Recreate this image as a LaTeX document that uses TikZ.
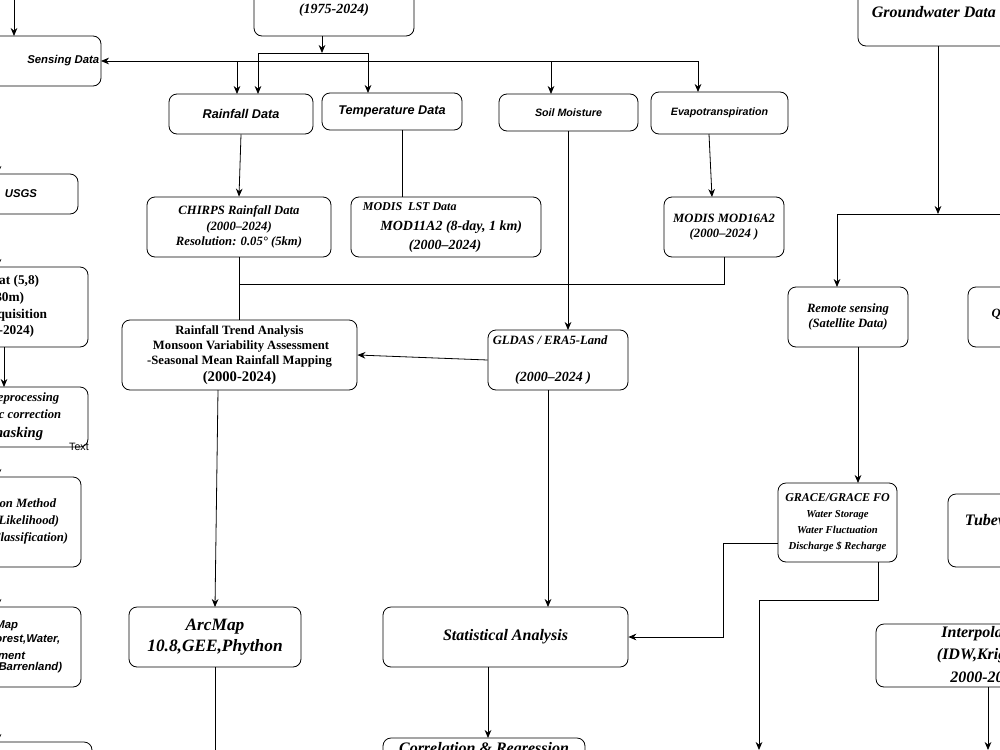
\documentclass[tikz,border=0pt]{standalone}
\usepackage{fontspec}
\setmainfont{Liberation Serif}
\setsansfont{Liberation Sans}
\usetikzlibrary{arrows.meta}
\begin{document}
\begin{tikzpicture}[x=0.75pt,y=-0.75pt,
  box/.style={draw,rounded corners=6pt,inner sep=1pt,align=center},
  wh/.style 2 args={minimum width=#1*0.75pt,minimum height=#2*0.75pt},
  sb/.style={font=\sffamily\bfseries\itshape\fontsize{#1}{\dimexpr#1pt*6/5\relax}\selectfont},
  rb/.style={font=\rmfamily\bfseries\itshape\fontsize{#1}{\dimexpr#1pt*6/5\relax}\selectfont},
  ru/.style={font=\rmfamily\bfseries\fontsize{#1}{\dimexpr#1pt*6/5\relax}\selectfont},
  ar/.style={-{Stealth[length=6pt,width=5pt]},line width=0.6pt}]
\useasboundingbox (0,0) rectangle (1000,750);
\clip (0,0) rectangle (1000,750);
\tikzset{every path/.append style={line width=0.6pt}}
% ---- boxes ----
\node[box,wh={160}{76},rb=10.5] (kak) at (334,-2) {\\(Kakul \& Balakot)\\(1975-2024)};
\node[box,wh={130}{50}] (rsd) at (36,61) {};
\node[sb=8.5,anchor=east] (rsdt) at (104,61) {Sensing Data};
\node[box,wh={144}{40},sb=9.5] (rain) at (241,114) {Rainfall Data};
\node[box,wh={140}{37},sb=9.5] (temp) at (392,111.5) {Temperature Data};
\node[box,wh={139}{37},sb=8] (soil) at (568.5,112.5) {Soil Moisture};
\node[box,wh={137}{42},sb=8] (evap) at (719.5,113) {Evapotranspiration};
\node[box,wh={110}{40}] (usgs) at (23,194) {};
\node[sb=8.5,anchor=west] at (0,194) {USGS};
\node[box,wh={184}{60},rb=9.5] (chirps) at (239,227) {CHIRPS Rainfall Data\\(2000--2024)\\ Resolution: 0.05° (5km)};
\node[box,wh={190}{60}] (lst) at (446,227) {};
\node[rb=9,anchor=west] at (358,207) {MODIS\ \ LST Data};
\node[rb=10.5] at (446,227) {\ \ \ MOD11A2 (8-day, 1 km)};
\node[rb=10.5] at (445,246) {(2000--2024)};
\node[box,wh={120}{60},rb=9.5] (mod16) at (724,227) {MODIS MOD16A2\\(2000--2024 )};
\node[box,wh={118}{80}] (land) at (29,307) {};
\node[ru=10,anchor=east] at (44,281) {Landsat (5,8)};
\node[ru=10,anchor=east] at (29,298) {(30m)};
\node[ru=10,anchor=east] at (52,315) {Acquisition};
\node[ru=10,anchor=east] at (39,331) {(2000-2024)};
\node[box,wh={235}{70},ru=9.5] (trend) at (239.5,355) {Rainfall Trend Analysis\\ \ Monsoon Variability Assessment\\-Seasonal Mean Rainfall Mapping\\[1pt]{\fontsize{11}{13}\selectfont(2000-2024)}};
\node[box,wh={140}{60}] (gldas) at (558,360) {};
\node[rb=9.5,anchor=west] at (488,340) {GLDAS / ERA5-Land};
\node[rb=10.5] at (553,378) {(2000--2024 )};
\node[box,wh={118}{60}] (pre) at (29,417) {};
\node[rb=9.5,anchor=east] at (64,398) {Image Preprocessing};
\node[rb=9.5,anchor=east] at (66,415) {Atmospheric correction};
\node[rb=11,anchor=east] at (48,434) {Cloud masking};
\node[font=\sffamily\fontsize{8}{9}\selectfont] at (79,447) {Text};
\node[box,wh={111}{90}] (cls) at (25.5,522) {};
\node[rb=9.5,anchor=east] at (61,504) {Classification Method};
\node[rb=9.5,anchor=east] at (64,521) {(Maximum Likelihood)};
\node[rb=9.5,anchor=east] at (73,538) {(Supervised Classification)};
\node[box,wh={111}{80}] (lulc) at (25.5,647) {};
\node[sb=8.5,anchor=east] at (23,626) {LULC Map};
\node[sb=8.5,anchor=east] at (65,640) {(Forest,Water,};
\node[sb=8.5,anchor=east] at (30,655) {Settlement};
\node[sb=8.5,anchor=east] at (67,668) {Agriculture,Barrenland)};
\node[box,wh={172}{60},rb=13] (arc) at (215,637) {ArcMap\\10.8,GEE,Phython};
\node[box,wh={245}{60},rb=12] (stat) at (505.5,637) {Statistical Analysis};
\node[box,wh={112}{40}] (bl) at (36,762) {};
\node[box,wh={202}{40},rb=12] (corr) at (484,758) {Correlation \& Regression\\ };
\node[box,wh={152}{80}] (gw) at (934,6) {};
\node[rb=12,anchor=west] at (867,12) {Groundwater Data};
\node[box,wh={120}{60},rb=9.5] (rs) at (848,317) {Remote sensing\\(Satellite Data)};
\node[box,wh={90}{60}] (fd) at (1013,317) {};
\node[rb=9.5] at (1018,297) {Field};
\node[rb=9.5] at (1021,314) {Quantity \&};
\node[rb=9.5] at (1024,330) {Quality};
\node[box,wh={119}{79},align=center,font=\rmfamily\bfseries\itshape] (grace) at (837.5,522.5) {{\fontsize{9}{10}\selectfont GRACE/GRACE FO}\\{\fontsize{8}{9.5}\selectfont Water Storage}\\{\fontsize{8}{9.5}\selectfont Water Fluctuation}\\{\fontsize{8}{9.5}\selectfont Discharge \$ Recharge}};
\node[box,wh={100}{73}] (tube) at (998,530.5) {};
\node[rb=12,anchor=west] at (960,520) {Tubewell};
\node[box,wh={170}{63}] (interp) at (961,655.5) {};
\node[rb=12] at (985,634) {Interpolation};
\node[rb=12] at (985,656) {(IDW,Kriging)};
\node[rb=12] at (985,677) {2000-2024};
% ---- coordinates ----
\coordinate (t0) at (14,-10);
\coordinate (j1) at (322,53);
\coordinate (gwj) at (938,214);
\coordinate (gwr) at (1010,214);
% ---- connectors ----
\draw[ar] (t0) -- (14,36);
\draw[ar] (322,36) -- (j1);
\draw (258,53) -- (368,53);
\draw[ar] (258,53) -- (258,94);
\draw[ar] (368,53) -- (368,93);
\draw[ar] (698,61) -- (101,61);
\draw[ar] (237,61) -- (237,94);
\draw[ar] (551,61) -- (551,94);
\draw[ar] (698,61) -- (698,92);
\draw[ar] (-2,150) -- (-2,174);
\draw[ar] (-2,240) -- (-2,267);
\draw[ar] (4,347) -- (4,387);
\draw[ar] (-2,452) -- (-2,477);
\draw[ar] (-2,585) -- (-2,607);
\draw[ar] (-2,715) -- (-2,742);
\draw[ar] (rain.south) -- (chirps.north);
\draw (402,130) -- (402,197);
\draw[ar] (709,134) -- (712,197);
\draw (chirps.south) -- (239,320);
\draw (239,284) -- (724,284) -- (mod16.south);
\draw[ar] (568,131) -- (568,330);
\draw[ar] (gldas.west) -- (trend.east);
\draw[ar] (218,390) -- (215,607);
\draw[ar] (548,390) -- (548,607);
\draw (arc.south) -- (215,750);
\draw[ar] (488,667) -- (488,738);
\draw[ar] (938,46) -- (gwj);
\draw (gwj) -- (gwr);
\draw[ar] (gwj) -| (837,287);
\draw[ar] (858,347) -- (858,483);
\draw[ar] (778,543) -| (723,637) -- (stat.east);
\draw[ar] (878,562) |- (759,600) -- (759,750);
\draw[ar] (988,687) -- (988,750);
\end{tikzpicture}
\end{document}
